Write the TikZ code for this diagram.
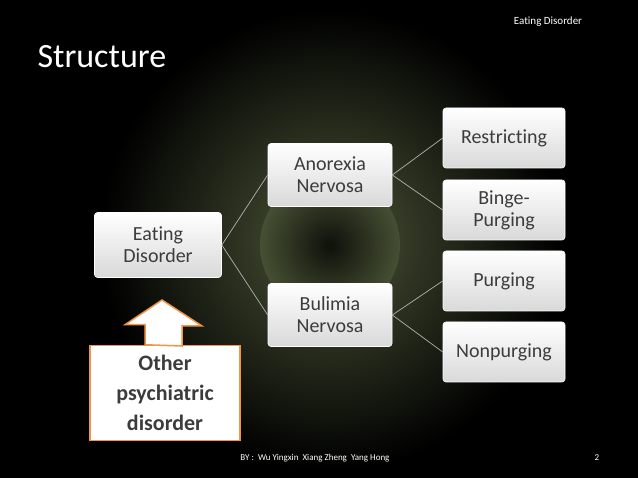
\documentclass[tikz,border=0pt]{standalone}
\usepackage{fontspec}
\setmainfont{Carlito}[Ligatures={NoCommon}]
\definecolor{boxtext}{RGB}{60,60,60}
\definecolor{orng}{RGB}{240,150,70}
\begin{document}
\begin{tikzpicture}[x=1pt,y=-1pt,
  box/.style={draw=white,line width=0.6pt,rounded corners=3pt,top color=white,bottom color=gray!30,
    text=boxtext,font=\fontsize{20}{22}\selectfont,align=center,minimum width=122pt,minimum height=60pt,inner sep=2pt},
  conn/.style={draw=gray!60,line width=0.7pt}]
\fill[black] (0,0) rectangle (638,478);
\shade[inner color={rgb,255:red,75;green,85;blue,55},outer color=black] (330,240) circle (230);
\shade[inner color=black,outer color={rgb,255:red,75;green,85;blue,55},opacity=0.8] (330,245) circle (70);
\useasboundingbox (0,0) rectangle (638,478);
\node[anchor=west,text=white,font=\fontsize{34}{38}\selectfont] (title) at (34,57) {Structure};
\node[text=white,font=\fontsize{11}{12}\selectfont] (hdr) at (548,22) {Eating Disorder};
\node[text=white,font=\fontsize{9}{10}\selectfont] (ftr) at (315,458) {BY :\ \ Wu Yingxin\ \ Xiang Zheng\ \ Yang Hong};
\node[text=white,font=\fontsize{9}{10}\selectfont] (pg) at (597,458) {2};
\node[box,minimum width=127pt,minimum height=65pt] (ed) at (158,245) {Eating\\Disorder};
\node[box,minimum width=124pt,minimum height=63pt] (an) at (330,175) {Anorexia\\Nervosa};
\node[box,minimum width=124pt,minimum height=63pt] (bn) at (330,315) {Bulimia\\Nervosa};
\node[box] (r) at (504,138) {Restricting};
\node[box] (bp) at (504,210) {Binge-\\Purging};
\node[box] (p) at (504,281) {Purging};
\node[box] (np) at (504,352) {Nonpurging};
\draw[conn] (ed.east) -- (an.west);
\draw[conn] (ed.east) -- (bn.west);
\draw[conn] (an.east) -- (r.west);
\draw[conn] (an.east) -- (bp.west);
\draw[conn] (bn.east) -- (p.west);
\draw[conn] (bn.east) -- (np.west);
\node[draw=orng,line width=1.5pt,fill=white,minimum width=150pt,minimum height=95pt,align=center,
  font=\bfseries\fontsize{22}{30}\selectfont,text=boxtext,inner sep=1pt] (oth) at (165,393) {Other\\psychiatric\\disorder};
\draw[draw=orng,line width=1.5pt,fill=white] (oth.north) ++(-20,0) -- ++(0,-20) -- ++(-20,0) -- (162,300) -- (202,326) -- ++(-20,0) -- ++(0,20) -- cycle;
\end{tikzpicture}
\end{document}
